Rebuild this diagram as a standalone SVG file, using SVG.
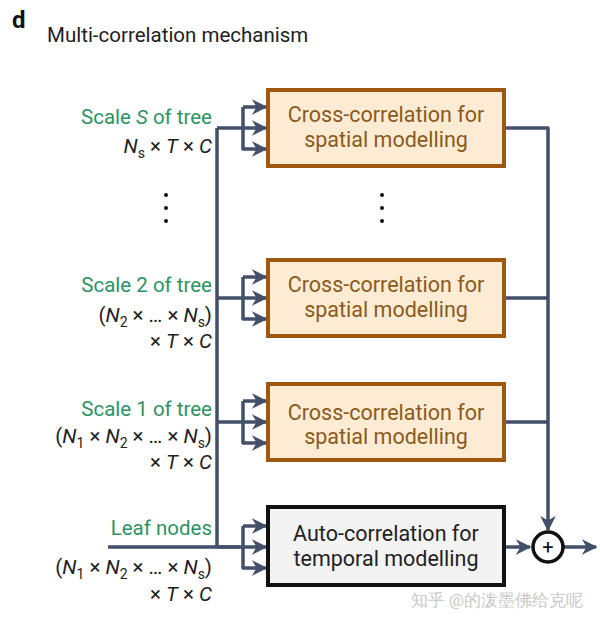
<svg xmlns="http://www.w3.org/2000/svg" width="600" height="626" viewBox="0 0 600 626">
<defs>
<style>
text{font-family:"Roboto","Liberation Sans",sans-serif}
.g{fill:#2e9266;font-size:20.5px}
.d{fill:#222;font-size:20.5px;font-style:italic}
.u{font-style:normal}
.bt{fill:#8a5a1c;font-size:21.5px;text-anchor:middle}
.box{fill:#fdebd3;stroke:#a0580f;stroke-width:4}
.c{fill:none;stroke:#44506a;stroke-width:3.5;stroke-linejoin:round}
</style>
<marker id="a" viewBox="0 0 10 10" refX="9" refY="5" markerWidth="4.5" markerHeight="4.5" orient="auto"><path d="M0,0L10,5L0,10L3,5Z" fill="#44506a"/></marker>
</defs>
<rect width="600" height="626" fill="#fff"/>
<text x="12" y="28" font-size="24" font-weight="bold" fill="#111">d</text>
<text x="47" y="42" font-size="20.5" fill="#222">Multi-correlation mechanism</text>

<g id="connectors">
<path class="c" d="M217,128V547M108,547H240"/>
<path class="c" d="M217,128H266" marker-end="url(#a)"/>
<path class="c" d="M243,107V149H266" marker-end="url(#a)"/>
<path class="c" d="M243,107H266" marker-end="url(#a)"/>
<path class="c" d="M217,298H266" marker-end="url(#a)"/>
<path class="c" d="M243,277V319H266" marker-end="url(#a)"/>
<path class="c" d="M243,277H266" marker-end="url(#a)"/>
<path class="c" d="M217,422H266" marker-end="url(#a)"/>
<path class="c" d="M243,401V443H266" marker-end="url(#a)"/>
<path class="c" d="M243,401H266" marker-end="url(#a)"/>
<path class="c" d="M217,547H266" marker-end="url(#a)"/>
<path class="c" d="M243,526V568H266" marker-end="url(#a)"/>
<path class="c" d="M243,526H266" marker-end="url(#a)"/>
<path class="c" d="M504,128H548V530" marker-end="url(#a)"/>
<path class="c" d="M504,298H548M504,422H548"/>
<path class="c" d="M504,547H530" marker-end="url(#a)"/>
<path class="c" d="M564,547H596" marker-end="url(#a)"/>
</g>

<g id="node-s"><rect class="box" x="268" y="90" width="236" height="76"/><text class="bt" x="386" y="122">Cross-correlation for</text><text class="bt" x="386" y="147">spatial modelling</text></g>
<g id="node-2"><rect class="box" x="268" y="260" width="236" height="76"/><text class="bt" x="386" y="292">Cross-correlation for</text><text class="bt" x="386" y="317">spatial modelling</text></g>
<g id="node-1"><rect class="box" x="268" y="384" width="236" height="76"/><text class="bt" x="386" y="420">Cross-correlation for</text><text class="bt" x="386" y="444">spatial modelling</text></g>
<g id="node-auto"><rect x="268" y="507" width="236" height="78" fill="#f3f3f3" stroke="#111" stroke-width="4"/><text class="bt" x="386" y="541" style="fill:#222">Auto-correlation for</text><text class="bt" x="386" y="566" style="fill:#222">temporal modelling</text></g>
<g id="sum"><circle cx="548" cy="547" r="15" fill="#fff" stroke="#111" stroke-width="3.5"/><text x="548" y="554" font-size="20" text-anchor="middle" fill="#111">+</text></g>

<g id="dots" fill="#111">
<circle cx="166" cy="195" r="2"/><circle cx="166" cy="208" r="2"/><circle cx="166" cy="221" r="2"/>
<circle cx="382" cy="195" r="2"/><circle cx="382" cy="208" r="2"/><circle cx="382" cy="221" r="2"/>
</g>

<g id="labels" text-anchor="end">
<text class="g" x="212" y="124">Scale <tspan font-style="italic">S</tspan> of tree</text>
<text class="d" x="212" y="153">N<tspan class="u" font-size="14" dy="5">s</tspan><tspan class="u" dy="-5"> × </tspan>T<tspan class="u"> × </tspan>C</text>
<text class="g" x="212" y="292">Scale 2 of tree</text>
<text class="d" x="212" y="322"><tspan class="u">(</tspan>N<tspan class="u" font-size="14" dy="5">2</tspan><tspan class="u" dy="-5"> × … × </tspan>N<tspan class="u" font-size="14" dy="5">s</tspan><tspan class="u" dy="-5">)</tspan></text>
<text class="d" x="212" y="348"><tspan class="u">× </tspan>T<tspan class="u"> × </tspan>C</text>
<text class="g" x="212" y="416">Scale 1 of tree</text>
<text class="d" x="212" y="443"><tspan class="u">(</tspan>N<tspan class="u" font-size="14" dy="5">1</tspan><tspan class="u" dy="-5"> × </tspan>N<tspan class="u" font-size="14" dy="5">2</tspan><tspan class="u" dy="-5"> × … × </tspan>N<tspan class="u" font-size="14" dy="5">s</tspan><tspan class="u" dy="-5">)</tspan></text>
<text class="d" x="212" y="469"><tspan class="u">× </tspan>T<tspan class="u"> × </tspan>C</text>
<text class="g" x="212" y="535">Leaf nodes</text>
<text class="d" x="212" y="574"><tspan class="u">(</tspan>N<tspan class="u" font-size="14" dy="5">1</tspan><tspan class="u" dy="-5"> × </tspan>N<tspan class="u" font-size="14" dy="5">2</tspan><tspan class="u" dy="-5"> × … × </tspan>N<tspan class="u" font-size="14" dy="5">s</tspan><tspan class="u" dy="-5">)</tspan></text>
<text class="d" x="212" y="601"><tspan class="u">× </tspan>T<tspan class="u"> × </tspan>C</text>
</g>
<text x="583" y="606" font-size="17" fill="#c8c8c8" text-anchor="end" font-family="Noto Sans CJK SC, sans-serif">知乎 @的泼墨佛给克呢</text>
</svg>
